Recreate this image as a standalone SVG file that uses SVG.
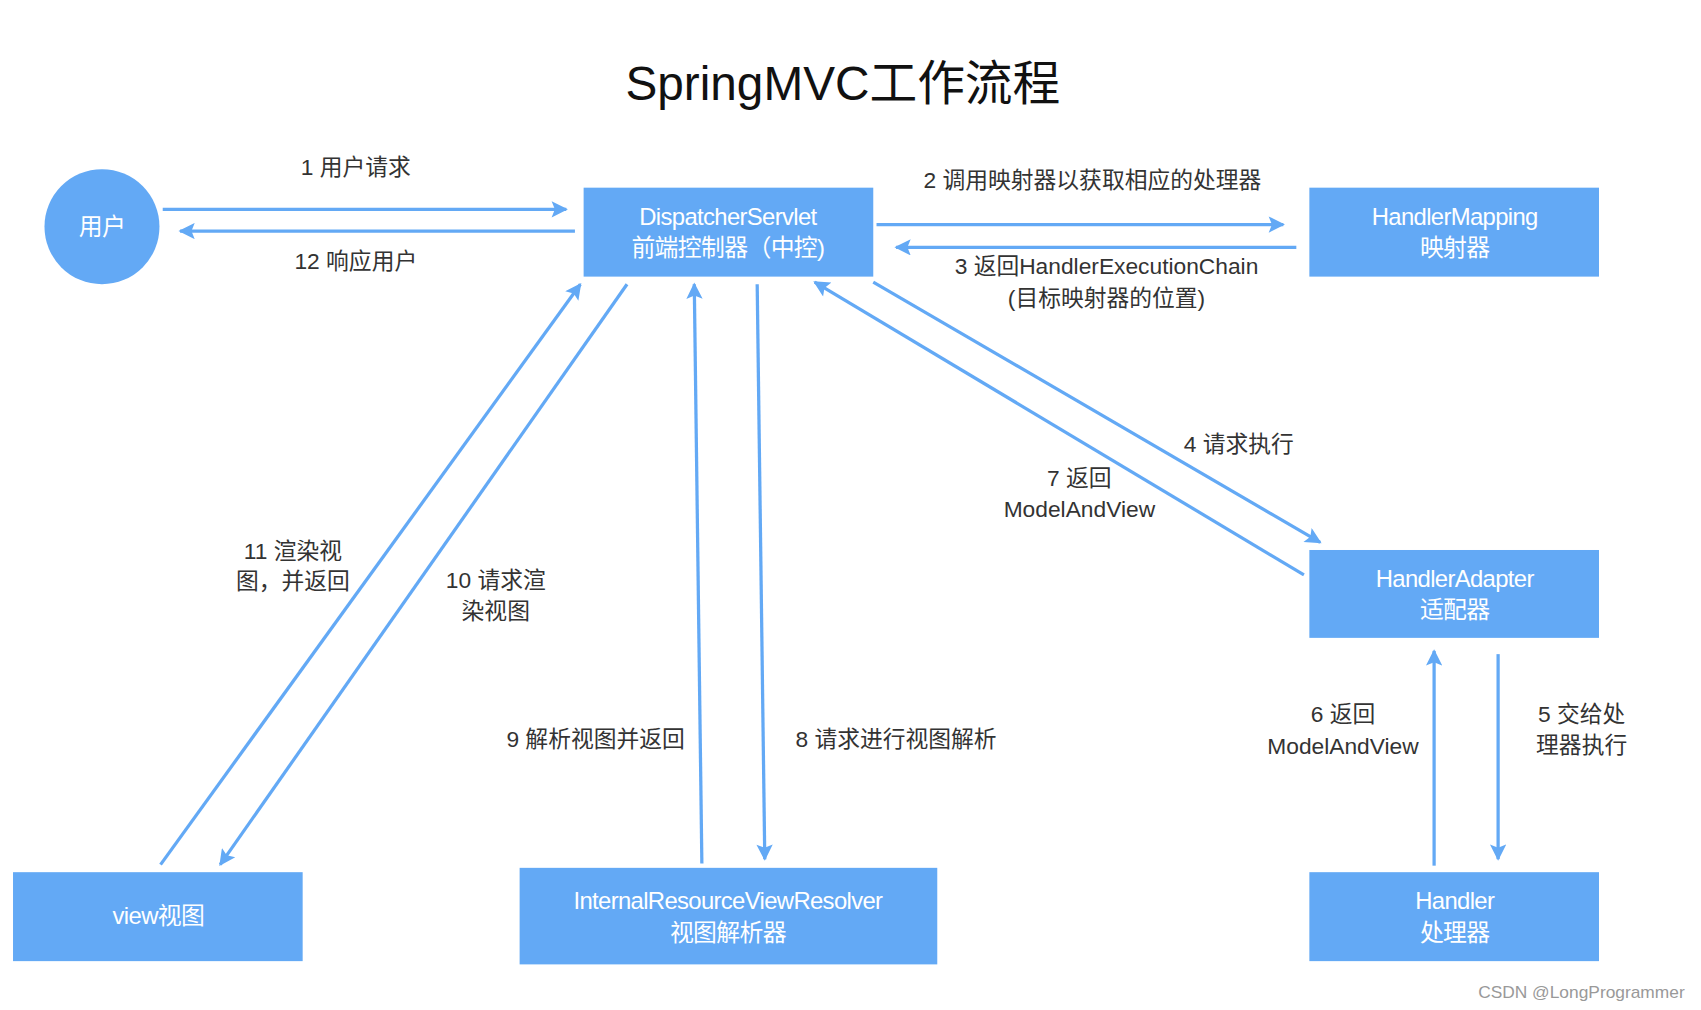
<svg xmlns="http://www.w3.org/2000/svg" width="1701" height="1010" viewBox="0 0 1701 1010">
<style>
.n{fill:#63a9f5}
.nt{fill:#fff;font-family:"Liberation Sans","Noto Sans CJK SC",sans-serif;font-size:22px;text-anchor:middle;letter-spacing:-0.6px}
.l{fill:#333;font-family:"Liberation Sans","Noto Sans CJK SC",sans-serif;font-size:21px;text-anchor:middle}
.c{stroke:#63a9f5;stroke-width:3;fill:none;marker-end:url(#a)}
</style>
<defs><marker id="a" viewBox="0 0 10 10" refX="9" refY="5" markerWidth="7" markerHeight="5" orient="auto" markerUnits="strokeWidth"><path d="M0,0L10,5L0,10L2,5z" fill="#63a9f5"/></marker></defs>
<rect width="1701" height="1010" fill="#fff"/>
<g transform="scale(1.0848,1.0848)">
<text x="777" y="92" style="font-family:'Liberation Sans','Noto Sans CJK SC',sans-serif;font-size:44px;text-anchor:middle;fill:#111">SpringMVC工作流程</text>
<g id="user"><circle class="n" cx="94" cy="209" r="53"/><text class="nt" x="94" y="217">用户</text></g>
<g id="dispatcher"><rect class="n" x="538" y="173" width="267" height="82"/><text class="nt" x="671" y="207">DispatcherServlet</text><text class="nt" x="671" y="236">前端控制器（中控)</text></g>
<g id="mapping"><rect class="n" x="1207" y="173" width="267" height="82"/><text class="nt" x="1341" y="207">HandlerMapping</text><text class="nt" x="1341" y="236">映射器</text></g>
<g id="adapter"><rect class="n" x="1207" y="507" width="267" height="81"/><text class="nt" x="1341" y="541">HandlerAdapter</text><text class="nt" x="1341" y="570">适配器</text></g>
<g id="handler"><rect class="n" x="1207" y="804" width="267" height="82"/><text class="nt" x="1341" y="838">Handler</text><text class="nt" x="1341" y="867">处理器</text></g>
<g id="view"><rect class="n" x="12" y="804" width="267" height="82"/><text class="nt" x="146" y="852">view视图</text></g>
<g id="resolver"><rect class="n" x="479" y="800" width="385" height="89"/><text class="nt" x="671" y="838">InternalResourceViewResolver</text><text class="nt" x="671" y="867">视图解析器</text></g>
<g id="connectors">
<path class="c" d="M150,193H522"/>
<path class="c" d="M530,213H166"/>
<path class="c" d="M808,207H1183"/>
<path class="c" d="M1195,228H826"/>
<path class="c" d="M805,260L1217,500"/>
<path class="c" d="M1202,530L751,260"/>
<path class="c" d="M578,262L203,797"/>
<path class="c" d="M148,797L535,262"/>
<path class="c" d="M647,796L640,262"/>
<path class="c" d="M698,262L705,792"/>
<path class="c" d="M1322,798V600"/>
<path class="c" d="M1381,603V792"/>
</g>
<g id="labels">
<text class="l" x="328" y="161">1 用户请求</text>
<text class="l" x="328" y="248">12 响应用户</text>
<text class="l" x="1007" y="173">2 调用映射器以获取相应的处理器</text>
<text class="l" x="1020" y="253">3 返回HandlerExecutionChain</text>
<text class="l" x="1020" y="282">(目标映射器的位置)</text>
<text class="l" x="1142" y="417">4 请求执行</text>
<text class="l" x="995" y="448">7 返回</text>
<text class="l" x="995" y="477">ModelAndView</text>
<text class="l" x="270" y="515">11 渲染视</text>
<text class="l" x="270" y="543">图，并返回</text>
<text class="l" x="457" y="542">10 请求渲</text>
<text class="l" x="457" y="571">染视图</text>
<text class="l" x="549" y="689">9 解析视图并返回</text>
<text class="l" x="826" y="689">8 请求进行视图解析</text>
<text class="l" x="1238" y="666">6 返回</text>
<text class="l" x="1238" y="695">ModelAndView</text>
<text class="l" x="1458" y="666">5 交给处</text>
<text class="l" x="1458" y="694">理器执行</text>
<text x="1553" y="920" style="font-family:'Liberation Sans','Noto Sans CJK SC',sans-serif;font-size:16px;text-anchor:end;fill:#999">CSDN @LongProgrammer</text>
</g>
</g>
</svg>
